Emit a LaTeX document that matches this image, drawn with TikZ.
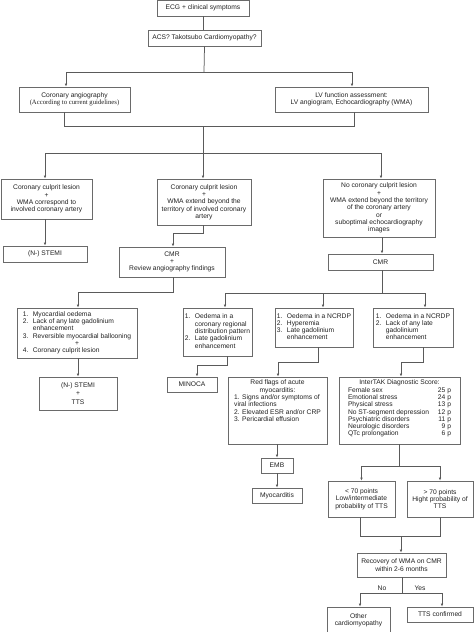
\documentclass[tikz,border=0pt]{standalone}
\usepackage{fontspec}
\setmainfont{Liberation Sans}
\newfontfamily\tnr{Liberation Serif}
\usetikzlibrary{arrows.meta}
\definecolor{boxc}{HTML}{6A6A6A}
\definecolor{linec}{HTML}{5A5A5A}
\definecolor{txtc}{HTML}{222222}
\newcommand\fs{\fontsize{6.7}{7.3}\selectfont}
\tikzset{
  box/.style={draw=boxc, line width=0.8pt, inner sep=1pt, align=center, font=\fs, text=txtc},
  txt/.style={inner sep=0pt, align=center, font=\fs, text=txtc},
  con/.style={draw=linec, line width=0.75pt},
  arr/.style={con, -{Latex[length=3pt,width=2.6pt]}},
}
\begin{document}
\begin{tikzpicture}[x=1pt,y=-1pt]
\useasboundingbox[fill=white] (0,0) rectangle (474,632);
% row 1
\node[box, minimum width=92, minimum height=16] (ecg) at (203,8) {ECG + clinical symptoms};
\node[box, minimum width=113, minimum height=16] (acs) at (204.5,38) {ACS? Takotsubo Cardiomyopathy?};
\node[box, minimum width=111, minimum height=25] (cag) at (74.5,99.5) {Coronary angiography\\{\tnr (According to current guidelines)}};
\node[box, minimum width=153, minimum height=25] (lv) at (351.5,99.5) {LV function assessment:\\LV angiogram, Echocardiography (WMA)};
% row 2
\node[box, minimum width=91, minimum height=40] (b1) at (46.5,199) {Coronary culprit lesion\\+\\WMA correspond to\\involved coronary artery};
\node[box, minimum width=94, minimum height=46] (b2) at (204,202) {Coronary culprit lesion\\+\\WMA extend beyond the\\territory of involved coronary\\artery};
\node[box, minimum width=112, minimum height=58] (b3) at (379,208) {No coronary culprit lesion\\+\\WMA extend beyond the territory\\of the coronary artery\\or\\suboptimal echocardiography\\images};
\node[box, minimum width=84, minimum height=16] (stemi) at (45,254) {(N-) STEMI};
\node[box, minimum width=106, minimum height=30] (cmrrev) at (172,262) {CMR\\+\\Review angiography findings};
\node[box, minimum width=105, minimum height=16] (cmr) at (380.5,262) {CMR};
% row 3
\node[box, minimum width=120, minimum height=50] (myo) at (77,333) {\begin{tabular}{@{}p{7pt}@{\hspace{3pt}}l@{}}
1. & Myocardial oedema\\
2. & Lack of any late gadolinium\\
   & enhancement\\
3. & Reversible myocardial ballooning\\
\multicolumn{2}{c}{+}\\
4. & Coronary culprit lesion
\end{tabular}};
\node[box, minimum width=69, minimum height=48] (bA) at (217.5,332) {\begin{tabular}{@{}p{7pt}@{\hspace{3pt}}l@{}}
1. & Oedema in a\\
   & coronary regional\\
   & distribution pattern\\
2. & Late gadolinium\\
   & enhancement
\end{tabular}};
\node[box, minimum width=78, minimum height=39] (bB) at (314,327.5) {\begin{tabular}{@{}p{7pt}@{\hspace{3pt}}l@{}}
1. & Oedema in a NCRDP\\
2. & Hyperemia\\
3. & Late gadolinium\\
   & enhancement
\end{tabular}};
\node[box, minimum width=80, minimum height=39] (bC) at (413,327.5) {\begin{tabular}{@{}p{7pt}@{\hspace{3pt}}l@{}}
1. & Oedema in a NCRDP\\
2. & Lack of any late\\
   & gadolinium\\
   & enhancement
\end{tabular}};
% row 4
\node[box, minimum width=78, minimum height=33] (stts) at (78,393.5) {(N-) STEMI\\[1pt]+\\[1pt]TTS};
\node[box, minimum width=50, minimum height=15] (minoca) at (192,384.5) {MINOCA};
\node[box, minimum width=99, minimum height=67] (red) at (277.5,410.5) {};
\node[txt, anchor=north] (redt) at ([yshift=-3pt]red.north) {\begin{tabular}{@{}l@{}}
\multicolumn{1}{@{}c@{}}{Red flags of acute}\\
\multicolumn{1}{@{}c@{}}{myocarditis:}\\
1. Signs and/or symptoms of\\
viral infections\\
2. Elevated ESR and/or CRP\\
3. Pericardial effusion
\end{tabular}};
\node[box, minimum width=121, minimum height=67] (inter) at (399.5,410.5) {};
\node[txt, anchor=north] (intert) at ([yshift=-3pt]inter.north) {InterTAK Diagnostic Score:\\
\begin{tabular*}{103pt}{@{}l@{\extracolsep{\fill}}r@{}}
Female sex & 25 p\\
Emotional stress & 24 p\\
Physical stress & 13 p\\
No ST-segment depression & 12 p\\
Psychiatric disorders & 11 p\\
Neurologic disorders & 9 p\\
QTc prolongation & 6 p
\end{tabular*}};
\node[box, minimum width=32, minimum height=15] (emb) at (277,465.5) {EMB};
\node[box, minimum width=50, minimum height=15] (myoc) at (277,495.5) {Myocarditis};
\node[box, minimum width=67, minimum height=36] (lo) at (361.5,499) {< 70 points\\Low/intermediate\\probability of TTS};
\node[box, minimum width=66, minimum height=36] (hi) at (440,499) {> 70 points\\Hight probability of\\TTS};
\node[box, minimum width=89, minimum height=24] (rec) at (401.5,565) {Recovery of WMA on CMR\\within 2-6 months};
\node[box, minimum width=63, minimum height=26] (other) at (358.5,620) {Other\\cardiomyopathy};
\node[box, minimum width=66, minimum height=15] (conf) at (440,614.5) {TTS confirmed};
\node[txt] (no) at (382,588) {No};
\node[txt] (yes) at (420,588) {Yes};
% connectors
\draw[con] (ecg.south) -- (ecg.south |- acs.north);
\coordinate (j1) at (204,72);
\draw[con] (acs.south) -- (j1);
\draw[arr] (j1) -| ([xshift=-8.5pt]cag.north);
\draw[arr] (j1) -| ([xshift=0.5pt]lv.north);
\coordinate (j2) at (203,126);
\draw[con] ([xshift=-10.5pt]cag.south) |- (j2);
\draw[con] ([xshift=2.5pt]lv.south) |- (j2);
\coordinate (j3) at (203,153);
\draw[con] (j2) -- (j3);
\draw[arr] (j3) -| ([xshift=-1.5pt]b1.north);
\draw[arr] (j3) -- (j3 |- b2.north);
\draw[arr] (j3) -| ([xshift=2pt]b3.north);
\draw[arr] (stemi.north |- b1.south) -- (stemi.north);
\draw[arr] ([xshift=-1pt]b2.south) -- ++(0,8) -| ([xshift=1pt]cmrrev.north);
\draw[arr] ([xshift=1.5pt]cmr.north |- b3.south) -- ([xshift=1.5pt]cmr.north);
\draw[arr] ([xshift=1pt]cmrrev.south) -- ++(0,15) -| ([xshift=1pt]myo.north);
\coordinate (j4) at (382,293);
\draw[con] ([xshift=1.5pt]cmr.south) -- (j4);
\draw[arr] (j4) -| ([xshift=7.5pt]bA.north);
\draw[arr] (j4) -| ([xshift=9pt]bB.north);
\draw[arr] (j4) -| ([xshift=12pt]bC.north);
\draw[arr] ([xshift=1pt]myo.south) -- (stts.north);
\draw[arr] ([xshift=9.5pt]bA.south) -- ++(0,9) -| ([xshift=5pt]minoca.north);
\draw[arr] ([xshift=4pt]bB.south) -- ++(0,15) -| ([xshift=0.5pt]red.north);
\draw[arr] ([xshift=10pt]bC.south) -- ++(0,15) -| ([xshift=1.5pt]inter.north);
\draw[arr] (emb.north |- red.south) -- (emb.north);
\draw[arr] (emb.south) -- (myoc.north);
\coordinate (j5) at (399,466);
\draw[con] ([xshift=-0.5pt]inter.south) -- (j5);
\draw[arr] (j5) -| (lo.north);
\draw[arr] (j5) -| (hi.north);
\coordinate (j6) at (401,536);
\draw[con] ([xshift=-1.5pt]lo.south) |- (j6);
\draw[con] (hi.south) |- (j6);
\draw[arr] (j6) -- (j6 |- rec.north);
\coordinate (j7) at (402,593);
\draw[con] ([xshift=0.5pt]rec.south) -- (j7);
\draw[arr] (j7) -| ([xshift=1.5pt]other.north);
\draw[arr] (j7) -| ([xshift=2pt]conf.north);
\end{tikzpicture}
\end{document}
